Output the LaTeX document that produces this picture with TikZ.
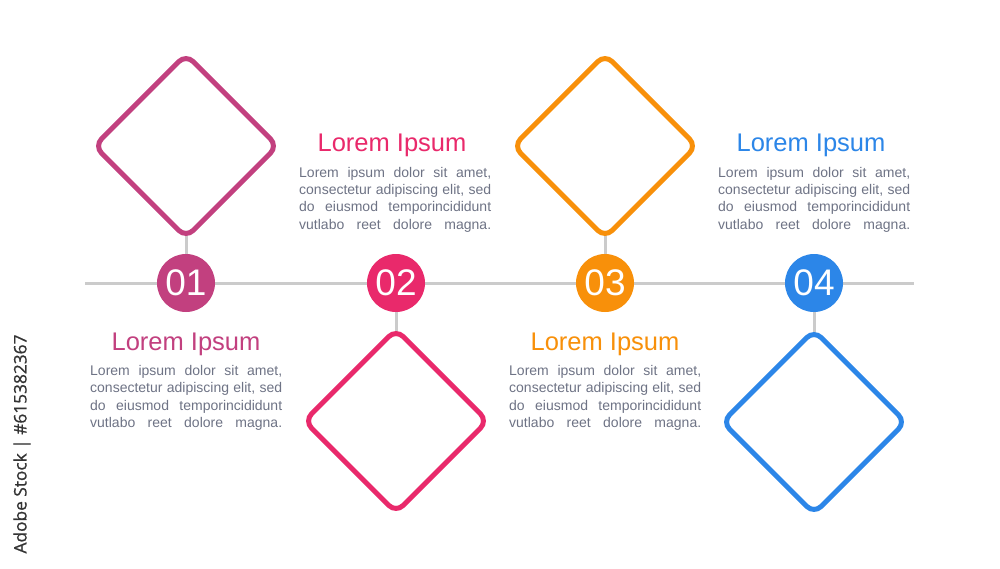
\documentclass[tikz,border=0pt]{standalone}
\usepackage{fontspec}
\setmainfont{Liberation Sans}
\newfontfamily\stockfont[FakeBold=0.8]{Open Sans}
\usetikzlibrary{backgrounds}
\definecolor{cA}{HTML}{C2407F}
\definecolor{cB}{HTML}{E9296B}
\definecolor{cC}{HTML}{F8900A}
\definecolor{cD}{HTML}{2C86E8}
\definecolor{lineg}{HTML}{CBCBCB}
\definecolor{bodyg}{HTML}{6E7385}
\definecolor{stockg}{HTML}{333333}
\newcommand{\jline}[1]{\makebox[192pt][s]{#1}}
\begin{document}
\begin{tikzpicture}[x=1pt,y=-1pt,
  dia/.style={shape=rectangle, draw=#1, line width=5pt, fill=white, rounded corners=10pt,
    minimum size=129.5pt, inner sep=0pt, rotate=45},
  num/.style={shape=circle, fill=#1, minimum size=58pt, inner sep=0pt, text=white,
    font=\fontsize{37}{37}\selectfont},
  ttl/.style={text=#1, inner sep=0pt, anchor=base, font=\fontsize{25.5}{25.5}\selectfont},
  body/.style={text=bodyg, inner sep=0pt, anchor=north west, align=left,
    font=\fontsize{14}{17.4}\selectfont},
  gline/.style={draw=lineg, line width=3pt}]
\useasboundingbox (0,0) rectangle (1000,568);

\coordinate (L) at (85,283);
\coordinate (R) at (914,283);

% diamonds
\node[dia=cA] (d1) at (186,146) {};
\node[dia=cB] (d2) at (396,421) {};
\node[dia=cC] (d3) at (605,146) {};
\node[dia=cD] (d4) at (814,422) {};

% number circles
\node[num=cA] (c1) at (186,283) {01};
\node[num=cB] (c2) at (396,283) {02};
\node[num=cC] (c3) at (605,283) {03};
\node[num=cD] (c4) at (814,283) {04};

% titles
\node[ttl=cA] (t1) at (186,350) {Lorem Ipsum};
\node[ttl=cB] (t2) at (392,151.5) {Lorem Ipsum};
\node[ttl=cC] (t3) at (605,350) {Lorem Ipsum};
\node[ttl=cD] (t4) at (811,151.5) {Lorem Ipsum};

% body texts
\node[body] (b1) at (90,365) {\jline{Lorem ipsum dolor sit amet,}\\\jline{consectetur adipiscing elit, sed}\\\jline{do eiusmod temporincididunt}\\\jline{vutlabo reet dolore magna.}};
\node[body] (b2) at (299,166.7) {\jline{Lorem ipsum dolor sit amet,}\\\jline{consectetur adipiscing elit, sed}\\\jline{do eiusmod temporincididunt}\\\jline{vutlabo reet dolore magna.}};
\node[body] (b3) at (509,365) {\jline{Lorem ipsum dolor sit amet,}\\\jline{consectetur adipiscing elit, sed}\\\jline{do eiusmod temporincididunt}\\\jline{vutlabo reet dolore magna.}};
\node[body] (b4) at (718,166.7) {\jline{Lorem ipsum dolor sit amet,}\\\jline{consectetur adipiscing elit, sed}\\\jline{do eiusmod temporincididunt}\\\jline{vutlabo reet dolore magna.}};

% stock label
\node[rotate=90, inner sep=0pt, text=stockg, font=\stockfont\fontsize{17.3}{17.3}\selectfont] (stock) at (22,444) {Adobe Stock | \#615382367};

\begin{scope}[on background layer]
  \fill[white] (0,0) rectangle (1000,568);
  \draw[gline] (L) -- (R);
  \draw[gline] (d1.center) -- (c1.center);
  \draw[gline] (d2.center) -- (c2.center);
  \draw[gline] (d3.center) -- (c3.center);
  \draw[gline] (d4.center) -- (c4.center);
\end{scope}
\end{tikzpicture}
\end{document}
